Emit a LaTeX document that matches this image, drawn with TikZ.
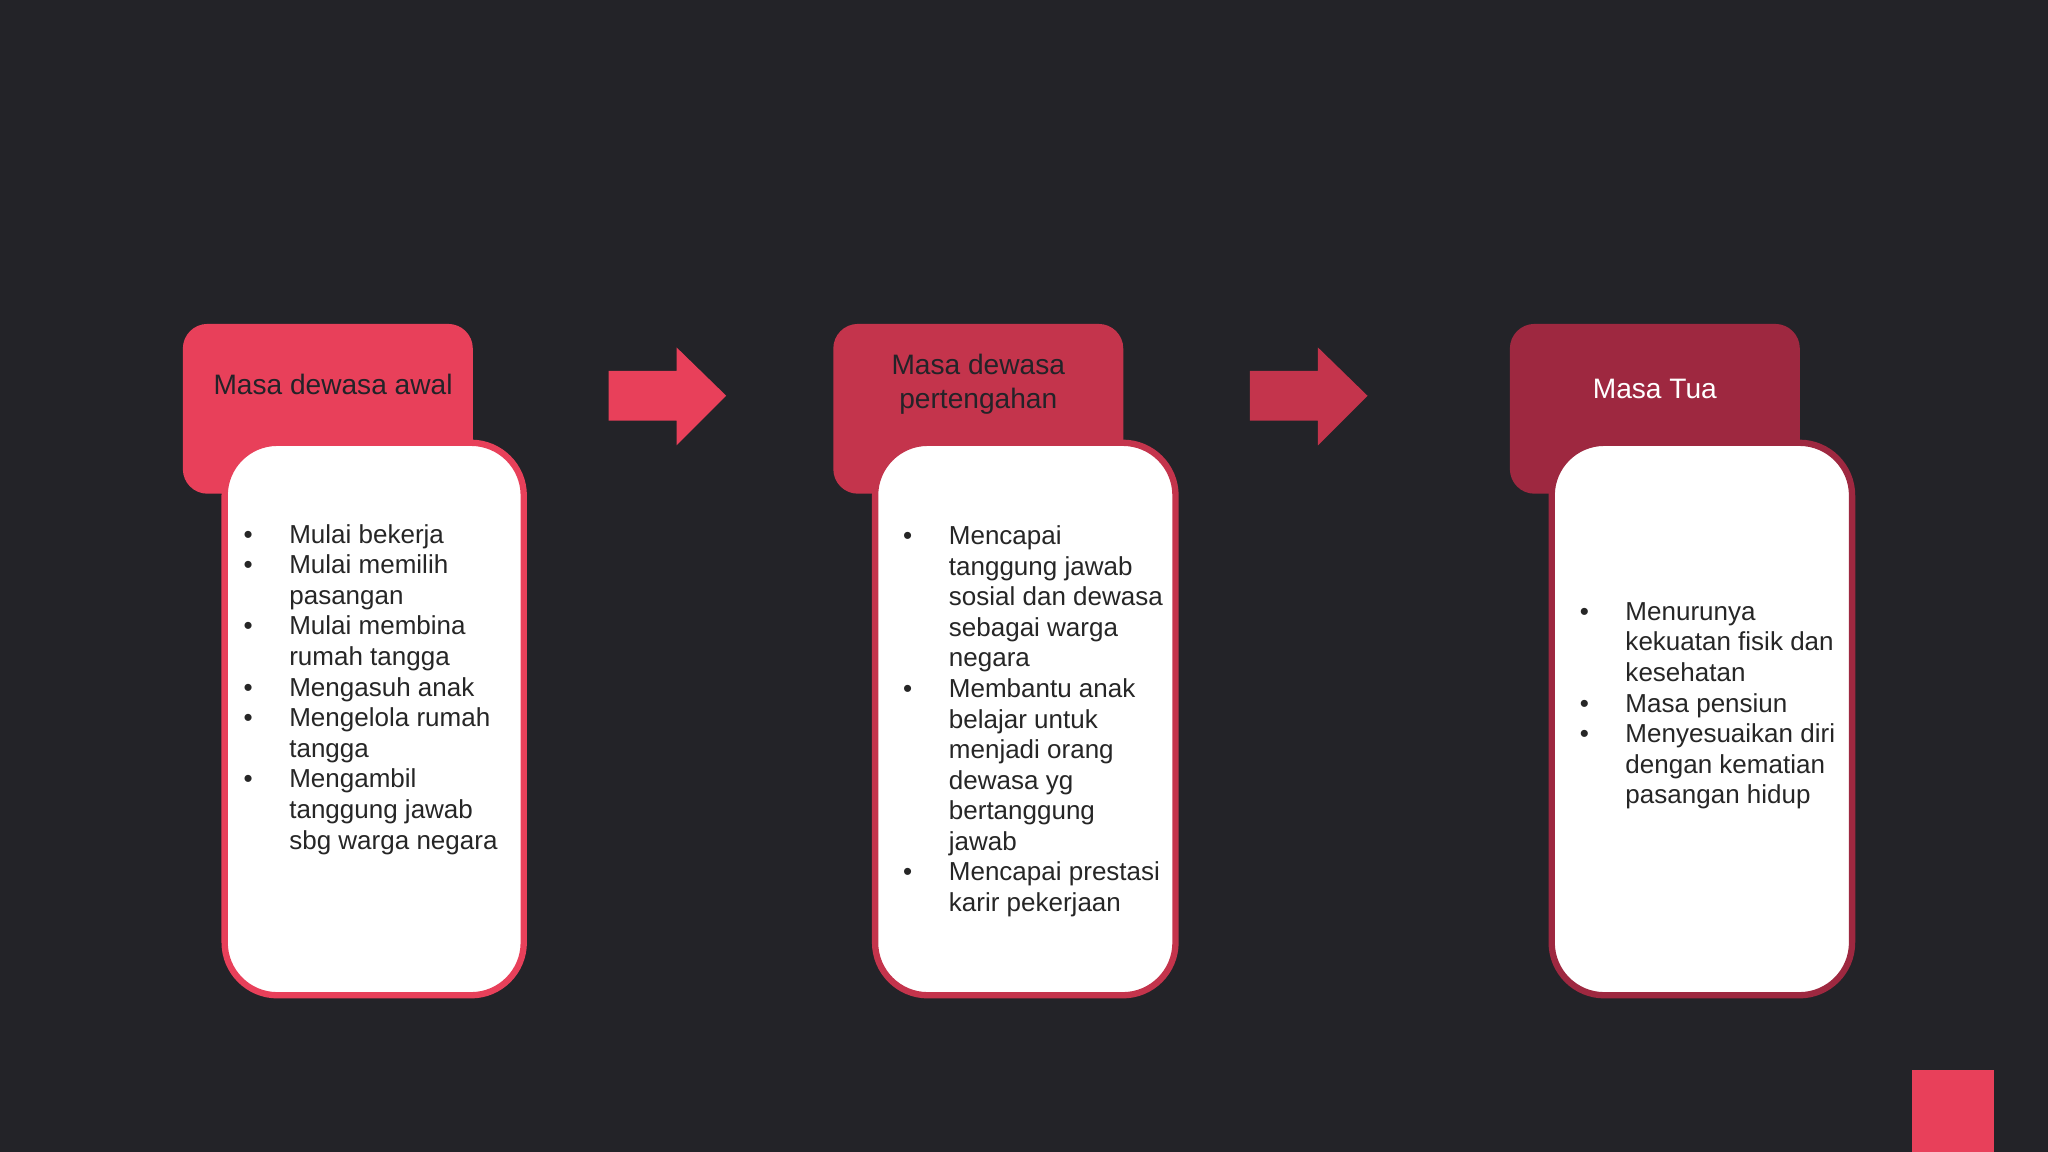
\documentclass[tikz,border=0pt]{standalone}
\usepackage{fontspec}
\setmainfont{Liberation Sans}
\usepackage{array}
\definecolor{bg}{HTML}{232328}
\definecolor{cA}{HTML}{E8405A}
\definecolor{cB}{HTML}{C4344C}
\definecolor{cC}{HTML}{9E2840}
\newcommand{\bl}[1]{\begin{tabular}{@{}p{13pt}@{}>{\raggedright\arraybackslash}p{62pt}@{}}#1\end{tabular}}
\begin{document}
\begin{tikzpicture}[x=0.013061cm,y=-0.013061cm,
  hdr/.style={rounded corners=7pt},
  body/.style={fill=white,line width=1.8pt,rounded corners=15pt},
  ltxt/.style={anchor=north west,inner sep=0pt,font=\fontsize{7.4}{8.7}\selectfont,text=black!85},
  htxt/.style={align=center,font=\fontsize{8}{9.6}\selectfont}]
\fill[bg] (0,0) rectangle (1568,882);
\useasboundingbox (0,0) rectangle (1568,882);
% box 1
\fill[cA,hdr] (140,248) rectangle (362,378);
\node[htxt,text=bg] (h1) at (255,294) {Masa dewasa awal};
\draw[cA,body] (172,339) rectangle (401,762);
\node[ltxt] (t1) at (186,399) {\bl{•&Mulai bekerja\\ •&Mulai memilih pasangan\\ •&Mulai membina rumah tangga\\ •&Mengasuh anak\\ •&Mengelola rumah tangga\\ •&Mengambil tanggung jawab sbg warga negara}};
% arrow 1
\fill[cA] (466,284) -- (518,284) -- (518,266) -- (556,303) -- (518,341) -- (518,322) -- (466,322) -- cycle;
% box 2
\fill[cB,hdr] (638,248) rectangle (860,378);
\node[htxt,text=bg] (h2) at (749,294) {Masa dewasa\\pertengahan};
\draw[cB,body] (670,339) rectangle (900,762);
\node[ltxt] (t2) at (691,400) {\bl{•&Mencapai tanggung jawab sosial dan dewasa sebagai warga negara\\ •&Membantu anak belajar untuk menjadi orang dewasa yg bertanggung jawab\\ •&Mencapai prestasi karir pekerjaan}};
% arrow 2
\fill[cB] (957,284) -- (1009,284) -- (1009,266) -- (1047,303) -- (1009,341) -- (1009,322) -- (957,322) -- cycle;
% box 3
\fill[cC,hdr] (1156,248) rectangle (1378,378);
\node[htxt,text=white] (h3) at (1267,298) {Masa Tua};
\draw[cC,body] (1188,339) rectangle (1418,762);
\node[ltxt] (t3) at (1209,458) {\bl{•&Menurunya kekuatan fisik dan kesehatan\\ •&Masa pensiun\\ •&Menyesuaikan diri dengan kematian pasangan hidup}};
% corner square
\fill[cA] (1464,819) rectangle (1527,882);
\end{tikzpicture}
\end{document}
